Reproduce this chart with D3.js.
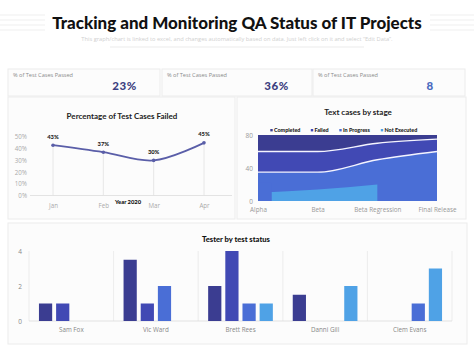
<!DOCTYPE html>
<html><head><meta charset="utf-8">
<script src="https://cdn.jsdelivr.net/npm/d3@7"></script>
<style>
html,body{margin:0;padding:0;background:#fff;}
svg{display:block;}
</style></head>
<body><svg id="c" width="474" height="355"></svg>
<script>
// ---------- data ----------
const title = "Tracking and Monitoring QA Status of IT Projects";
const subtitle = "This graph/chart is linked to excel, and changes automatically based on data. Just left click on it and select \u201cEdit Data\u201d.";
const kpiLabels = ["% of Test Cases Passed", "% of Test Cases Passed", "% of Test Cases Passed"];
const kpiValues = ["23%", "36%", "8"];

const months = ["Jan", "Feb", "Mar", "Apr"];
const failedPct = [43, 37, 30, 45];
const pctTicks = [0, 10, 20, 30, 40, 50];

const stages = ["Alpha", "Beta", "Beta Regression", "Final Release"];
const stageSeries = ["Completed", "Failed", "In Progress", "Not Executed"];
const completedStage = [20, 20, 10, 5];
const failedStage = [25, 25, 20, 15];
const inProgressStage = [25, 21, 30, 60];
const notExecutedStage = [10, 14, 20, 0];
const stageOverflow = [0, 0, 0, 22];
const stageTicks = [0, 40, 80];

const testers = ["Sam Fox", "Vic Ward", "Brett Rees", "Danni Gill", "Clem Evans"];
const completedT = [1, 3.5, 2, 1.5, 0];
const failedT = [1, 1, 4, 0, 0];
const inProgressT = [0, 2, 1, 0, 1];
const notExecutedT = [0, 0, 1, 2, 3];
const testerTicks = [0, 2, 4];

// ---------- styles ----------
const colors = ["#3b3d91", "#4149b4", "#4a6ed6", "#4fa2e6"];
const lineColor = "#5a5ea8";
const svg = d3.select("#c");
const FS = "'Open Sans', sans-serif";
const FB = "Lato, sans-serif";

// decorative faint stripes at top
[15, 20, 25, 30].forEach(y => {
  svg.append("line").attr("x1", 0).attr("x2", 45).attr("y1", y).attr("y2", y).attr("stroke", "#f0f0f0").attr("stroke-width", 1.2);
  svg.append("line").attr("x1", 430).attr("x2", 474).attr("y1", y).attr("y2", y).attr("stroke", "#f0f0f0").attr("stroke-width", 1.2);
});

// title
const t = svg.append("text").attr("x", 237).attr("y", 29).attr("text-anchor", "middle")
  .attr("font-family", FB).attr("font-weight", 900).attr("font-size", 18).attr("fill", "#111").text(title);
const tw = t.node().getComputedTextLength();
t.attr("font-size", 18 * 370 / tw);
const st = svg.append("text").attr("x", 237).attr("y", 41).attr("text-anchor", "middle")
  .attr("font-family", FS).attr("font-size", 5).attr("fill", "#d0d0d0").text(subtitle);
const sw = st.node().getComputedTextLength();
st.attr("font-size", 5 * 312 / sw);
svg.append("line").attr("x1", 110).attr("x2", 364).attr("y1", 47).attr("y2", 47).attr("stroke", "#e6e6e6").attr("stroke-width", 0.8);

// panels
function panel(x, y, w, h) {
  svg.append("rect").attr("x", x).attr("y", y).attr("width", w).attr("height", h)
    .attr("fill", "#fcfcfc").attr("stroke", "#ececec").attr("stroke-width", 1);
}
// KPI boxes
const kpiX = [8, 162, 313];
const kpiW = [152, 150, 152];
const kpiValX = [124.5, 276.5, 430];
const kpiColors = ["#3d3f80", "#3d3f80", "#4a6bc0"];
kpiLabels.forEach((l, i) => {
  panel(kpiX[i], 69, kpiW[i], 27);
  svg.append("text").attr("x", kpiX[i] + 5).attr("y", 77).attr("font-family", FS).attr("font-size", 5.6).attr("fill", "#8a8a8a").text(l);
  svg.append("text").attr("x", kpiValX[i]).attr("y", 90).attr("text-anchor", "middle").attr("font-family", FB)
    .attr("font-weight", 900).attr("font-size", 11.5).attr("fill", kpiColors[i]).attr("letter-spacing", 0.5).text(kpiValues[i]);
});

panel(8, 97, 227, 122);
panel(237, 97, 229, 122);
panel(8, 223, 459, 121);

// ---------- line chart ----------
{
  const x = d3.scalePoint().domain(months).range([53, 204]);
  const y = d3.scaleLinear().domain([0, 50]).range([195.5, 137]);
  svg.append("text").attr("x", 122).attr("y", 119).attr("text-anchor", "middle").attr("font-family", FB)
    .attr("font-weight", 700).attr("font-size", 8).attr("fill", "#222").text("Percentage of Test Cases Failed");
  const ya = svg.append("g").attr("transform", "translate(27,0)")
    .call(d3.axisLeft(y).tickValues(pctTicks).tickFormat(d => d + "%").tickSize(0).tickPadding(0));
  ya.select(".domain").remove();
  ya.selectAll("text").attr("font-family", FS).attr("font-size", 6.2).attr("fill", "#aaa");
  svg.append("line").attr("x1", 30).attr("x2", 232).attr("y1", y(0)).attr("y2", y(0)).attr("stroke", "#dcdcdc").attr("stroke-width", 0.8);
  // drop lines
  svg.selectAll(".drop").data(months).join("line").attr("x1", d => x(d)).attr("x2", d => x(d))
    .attr("y1", (d, i) => y(failedPct[i])).attr("y2", y(0)).attr("stroke", "#e2e2e2").attr("stroke-width", 0.8);
  const xa = svg.append("g").attr("transform", `translate(0,${y(0)})`)
    .call(d3.axisBottom(x).tickSize(0).tickPadding(8));
  xa.select(".domain").remove();
  xa.selectAll("text").attr("font-family", FS).attr("font-size", 6.2).attr("fill", "#aaa");
  svg.append("text").attr("x", 128).attr("y", 204).attr("text-anchor", "middle").attr("font-family", FB)
    .attr("font-weight", 900).attr("font-size", 5.8).attr("fill", "#111").text("Year 2020");
  const line = d3.line().x((d, i) => x(months[i])).y(d => y(d)).curve(d3.curveCatmullRom.alpha(0.5));
  svg.append("path").datum(failedPct).attr("d", line).attr("fill", "none").attr("stroke", lineColor).attr("stroke-width", 1.8);
  svg.selectAll(".pt").data(failedPct).join("circle").attr("cx", (d, i) => x(months[i])).attr("cy", d => y(d))
    .attr("r", 1.8).attr("fill", lineColor);
  svg.selectAll(".lbl").data(failedPct).join("text").attr("x", (d, i) => x(months[i])).attr("y", d => y(d) - 6.5)
    .attr("text-anchor", "middle").attr("font-family", FB).attr("font-weight", 900).attr("font-size", 5.8).attr("fill", "#222")
    .text(d => d + "%");
}

// ---------- area chart ----------
{
  const x = d3.scalePoint().domain(stages).range([258, 437]);
  const y = d3.scaleLinear().domain([0, 80]).range([201, 135]);
  svg.append("text").attr("x", 358).attr("y", 115).attr("text-anchor", "middle").attr("font-family", FB)
    .attr("font-weight", 700).attr("font-size", 8).attr("fill", "#222").text("Text cases by stage");
  const series = [completedStage, failedStage, inProgressStage, notExecutedStage];
  // cumulative tops (stack from bottom: Not Executed, In Progress, Failed, Completed)
  const cum = series.map((s, k) => stages.map((_, i) => d3.sum(series.slice(k), ss => ss[i])));
  const area = d3.area().x((d, i) => x(stages[i])).y0(y(0)).y1(d => y(d)).curve(d3.curveMonotoneX);
  cum.forEach((c, k) => {
    const a = area.defined((d, i) => series[k][i] > 0);
    svg.append("path").datum(c).attr("d", a).attr("fill", colors[k]);
  });
  // overflow block beyond the last stage
  svg.selectAll(".ov").data(stageOverflow).join("rect").filter(d => d > 0)
    .attr("x", (d, i) => x(stages[i])).attr("width", x.step() * 0.23)
    .attr("y", d => y(d)).attr("height", d => y(0) - y(d)).attr("fill", colors[2]);
  const ln = d3.line().x((d, i) => x(stages[i])).y(d => y(d)).curve(d3.curveMonotoneX);
  [1, 2].forEach(k => {
    svg.append("path").datum(cum[k]).attr("d", ln).attr("fill", "none").attr("stroke", "#f4f4ff").attr("stroke-width", 1.3);
  });
  const ya = svg.append("g").attr("transform", "translate(253,0)")
    .call(d3.axisLeft(y).tickValues(stageTicks).tickSize(0).tickPadding(0));
  ya.select(".domain").remove();
  ya.selectAll("text").attr("font-family", FS).attr("font-size", 6.5).attr("fill", "#999");
  const xa = svg.append("g").attr("transform", `translate(0,${y(0)})`)
    .call(d3.axisBottom(x).tickSize(0).tickPadding(7));
  xa.select(".domain").remove();
  xa.selectAll("text").attr("font-family", FS).attr("font-size", 6.3).attr("fill", "#999");
  // legend
  const legX = [271.5, 312, 340.5, 382];
  stageSeries.forEach((s, i) => {
    svg.append("rect").attr("x", legX[i] - 1.2).attr("y", 129).attr("width", 2.4).attr("height", 2.4).attr("fill", colors[i]);
    svg.append("text").attr("x", legX[i] + 2.5).attr("y", 132).attr("font-family", FB).attr("font-weight", 900)
      .attr("font-size", 5.4).attr("fill", "#222").text(s);
  });
}

// ---------- grouped bar chart ----------
{
  const x0 = d3.scaleBand().domain(testers).range([29, 452]);
  const x1 = d3.scaleBand().domain(stageSeries).range([0, x0.bandwidth()]).paddingInner(0.23).paddingOuter(0.58);
  const y = d3.scaleLinear().domain([0, 4]).range([321, 251]);
  svg.append("text").attr("x", 236).attr("y", 242).attr("text-anchor", "middle").attr("font-family", FB)
    .attr("font-weight", 900).attr("font-size", 7.6).attr("fill", "#111").text("Tester by test status");
  // separators
  const seps = testers.map(t => x0(t)).concat([x0.range()[1]]);
  svg.selectAll(".sep").data(seps).join("line").attr("x1", d => d).attr("x2", d => d).attr("y1", y(4)).attr("y2", y(0))
    .attr("stroke", "#e8e8e8").attr("stroke-width", 0.8);
  svg.append("line").attr("x1", 29).attr("x2", 452).attr("y1", y(0)).attr("y2", y(0)).attr("stroke", "#dcdcdc").attr("stroke-width", 0.8);
  const vals = [completedT, failedT, inProgressT, notExecutedT];
  const flat = [];
  testers.forEach((t, i) => stageSeries.forEach((s, k) => { if (vals[k][i] > 0) flat.push({ t, s, k, v: vals[k][i] }); }));
  svg.selectAll(".bar").data(flat).join("rect").attr("x", d => x0(d.t) + x1(d.s)).attr("width", x1.bandwidth())
    .attr("y", d => y(d.v)).attr("height", d => y(0) - y(d.v)).attr("fill", d => colors[d.k]);
  const ya = svg.append("g").attr("transform", "translate(22,0)")
    .call(d3.axisLeft(y).tickValues(testerTicks).tickFormat(d3.format("d")).tickSize(0).tickPadding(0));
  ya.select(".domain").remove();
  ya.selectAll("text").attr("font-family", FS).attr("font-size", 6.5).attr("fill", "#888");
  const xa = svg.append("g").attr("transform", `translate(0,${y(0)})`)
    .call(d3.axisBottom(x0).tickSize(0).tickPadding(7));
  xa.select(".domain").remove();
  xa.selectAll("text").attr("font-family", FS).attr("font-size", 6.3).attr("fill", "#888");
}
</script></body></html>
